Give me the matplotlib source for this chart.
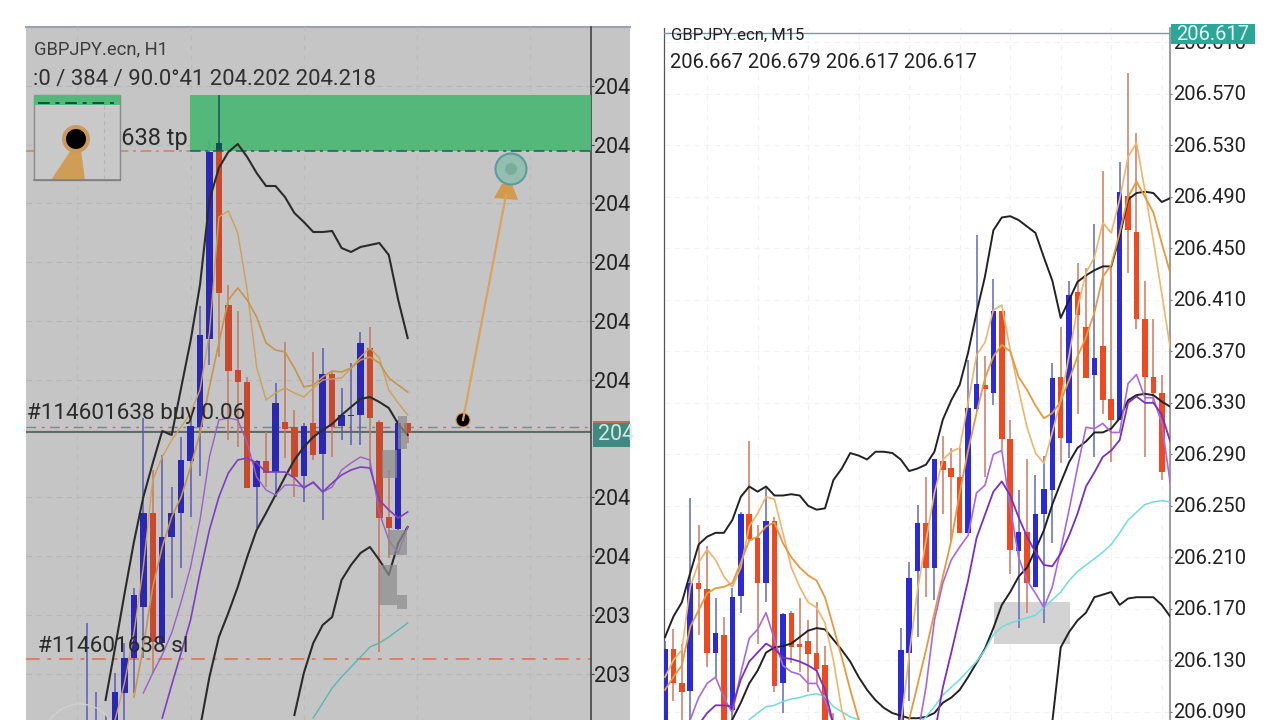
import numpy as np
import matplotlib
matplotlib.use('Agg')
import matplotlib.pyplot as plt
from matplotlib.patches import Rectangle, Circle, Polygon
from matplotlib.transforms import ScaledTranslation

plt.rcParams['font.family'] = ['Roboto', 'DejaVu Sans']

nan = np.nan

# ---- H1 panel (left) ----
h1_open = [203.851, 203.846, 203.846, 203.861, 203.893, 203.928, 203.979, 204.073, 203.943, 204.049, 204.073, 204.125,
           204.159, 204.247, 204.443, 204.281, 204.216, 204.204, 204.099, 204.125, 204.114, 204.164, 204.159, 204.110,
           204.163, 204.132, 204.212, 204.160, 204.170, 204.171, 204.238, 204.164, 204.069, 204.057, 204.163]
h1_high = [203.963, 203.894, 203.871, 203.913, 203.943, 203.998, 204.168, 204.116, 204.131, 204.099, 204.149, 204.168,
           204.280, 204.446, 204.491, 204.301, 204.275, 204.209, 204.126, 204.154, 204.203, 204.244, 204.176, 204.163,
           204.234, 204.238, 204.214, 204.198, 204.223, 204.254, 204.259, 204.166, 204.116, 204.166, 204.163]
h1_low = [203.846, 203.840, 203.840, 203.851, 203.861, 203.893, 203.928, 203.913, 203.939, 203.988, 204.018, 204.069,
          204.110, 204.221, 204.229, 204.146, 204.139, 204.098, 204.058, 204.099, 204.089, 204.128, 204.089, 204.084,
          204.126, 204.066, 204.129, 204.146, 204.141, 204.141, 204.119, 203.934, 204.028, 204.056, 204.143]
h1_close = [203.861, 203.856, 203.860, 203.894, 203.928, 203.991, 204.073, 203.944, 204.049, 204.073, 204.126, 204.160,
            204.251, 204.434, 204.293, 204.215, 204.204, 204.098, 204.125, 204.113, 204.183, 204.157, 204.109, 204.160,
            204.131, 204.212, 204.159, 204.171, 204.171, 204.243, 204.168, 204.068, 204.058, 204.163, 204.153]

h1_upper = [nan, nan] + [203.886, 203.938, 203.992, 204.044, 204.089, 204.123, 204.155, 204.151, 204.198, 204.245, 204.301,
                         204.386, 204.418, 204.434, 204.442, 204.429, 204.413, 204.400, 204.400, 204.389, 204.373, 204.364,
                         204.354, 204.354, 204.355, 204.338, 204.334, 204.339, 204.341, 204.343, 204.331, 204.286, 204.248]
h1_mid = [nan] * 12 + [203.858, 203.909, 203.949, 203.973, 203.999, 204.029, 204.056, 204.073, 204.091, 204.109, 204.126,
                       204.139, 204.149, 204.156, 204.162, 204.171, 204.179, 204.187, 204.189, 204.184, 204.178, 204.162, 204.151]
h1_lower = [nan] * 22 + [203.871, 203.913, 203.943, 203.961, 203.969, 204.006, 204.021, 204.033, 204.039, 204.026, 204.011,
                         204.043, 204.059]
h1_cyan = [nan] * 24 + [203.868, 203.883, 203.898, 203.909, 203.919, 203.929, 203.939, 203.943, 203.949, 203.956, 203.963]
h1_orange_a = [nan] * 3 + [203.866, 203.903, 203.953, 204.019, 204.106, 204.129, 204.146, 204.159, 204.173, 204.196, 204.253,
                           204.369, 204.375, 204.353, 204.296, 204.219, 204.186, 204.193, 204.198, 204.193, 204.189, 204.198,
                           204.206, 204.207, 204.208, 204.218, 204.229, 204.238, 204.228, 204.196, 204.183, 204.171]
h1_orange_b = [nan] * 5 + [203.889, 203.939, 203.999, 204.039, 204.069, 204.089, 204.119, 204.153, 204.199, 204.243, 204.286,
                           204.298, 204.286, 204.269, 204.243, 204.236, 204.234, 204.218, 204.199, 204.201, 204.209, 204.215,
                           204.214, 204.218, 204.226, 204.229, 204.223, 204.208, 204.201, 204.194]
h1_purple_a = [nan] * 6 + [203.893, 203.913, 203.931, 203.953, 203.984, 204.019, 204.066, 204.129, 204.166, 204.168, 204.166,
                           204.143, 204.109, 204.096, 204.091, 204.101, 204.101, 204.099, 204.103, 204.094, 204.099, 204.116,
                           204.123, 204.129, 204.126, 204.073, 204.046, 204.033, 204.059]
h1_purple_b = [nan] * 8 + [203.868, 203.901, 203.933, 203.966, 204.013, 204.056, 204.089, 204.113, 204.126, 204.128, 204.123,
                           204.114, 204.114, 204.114, 204.108, 204.098, 204.104, 204.094, 204.103, 204.111, 204.116, 204.119,
                           204.118, 204.086, 204.076, 204.068, 204.074]

# price ticks are cut off at the window edge in the video, only the first digits show
h1_ticks = [204.500, 204.441, 204.383, 204.324, 204.265, 204.206, 204.089, 204.030, 203.971, 203.912]
h1_tick_labels = ['204', '204', '204', '204', '204', '204', '204', '204', '203', '203']
h1_tp = 204.435
h1_tp_top = 204.491
h1_entry = 204.159
h1_bid = 204.154
h1_sl = 203.927

# ---- M15 panel (right) ----
m15_open = [206.076, 206.139, 206.112, 206.106, 206.190, 206.185, 206.136, 206.150, 206.091, 206.180, 206.244, 206.225,
            206.190, 206.238, 206.112, 206.167, 206.143, 206.145, 206.136, 206.126, 206.080, nan, nan, nan, nan, nan, nan,
            nan, 206.076, 206.136, 206.199, 206.237, 206.202, 206.285, 206.279, 206.272, 206.229, 206.325, 206.344, 206.338,
            206.401, 206.302, 206.215, 206.230, 206.187, 206.244, 206.262, 206.350, 206.299, 206.416, 206.389, 206.352,
            206.374, 206.333, 206.317, 206.491, 206.463, 206.395, 206.350, 206.338]
m15_high = [206.145, 206.154, 206.143, 206.256, 206.235, 206.219, 206.178, 206.164, 206.186, 206.245, 206.300, 206.235,
            206.265, 206.241, 206.167, 206.168, 206.178, 206.161, 206.175, 206.141, 206.089, nan, nan, nan, nan, nan, nan,
            nan, 206.155, 206.206, 206.251, 206.272, 206.286, 206.304, 206.295, 206.295, 206.363, 206.460, 206.366, 206.426,
            206.401, 206.317, 206.262, 206.286, 206.274, 206.289, 206.361, 206.389, 206.425, 206.439, 206.435, 206.469,
            206.510, 206.436, 206.517, 206.586, 206.540, 206.425, 206.395, 206.352]
m15_low = [206.070, 206.098, 206.076, 206.076, 206.150, 206.125, 206.117, 206.070, 206.076, 206.167, 206.223, 206.143,
           206.175, 206.105, 206.089, 206.128, 206.121, 206.105, 206.112, 206.070, 206.060, nan, nan, nan, nan, nan, nan,
           nan, 206.070, 206.098, 206.148, 206.179, 206.177, 206.244, 206.223, 206.229, 206.229, 206.324, 206.272, 206.328,
           206.293, 206.197, 206.155, 206.167, 206.187, 206.159, 206.221, 206.283, 206.287, 206.321, 206.349, 206.288,
           206.321, 206.284, 206.317, 206.431, 206.387, 206.288, 206.330, 206.270]
m15_close = [206.139, 206.112, 206.105, 206.190, 206.185, 206.136, 206.151, 206.076, 206.179, 206.244, 206.224, 206.190,
             206.238, 206.110, 206.166, 206.140, 206.140, 206.135, 206.123, 206.076, 206.065, nan, nan, nan, nan, nan, nan,
             nan, 206.138, 206.194, 206.237, 206.202, 206.286, 206.278, 206.272, 206.229, 206.326, 206.345, 206.341, 206.401,
             206.302, 206.216, 206.230, 206.190, 206.244, 206.263, 206.349, 206.303, 206.414, 206.398, 206.349, 206.365,
             206.332, 206.317, 206.494, 206.464, 206.395, 206.350, 206.338, 206.276]

m15_upper = [206.148, 206.164, 206.175, 206.198, 206.220, 206.226, 206.229, 206.229, 206.239, 206.257, 206.265, 206.261,
             206.265, 206.258, 206.258, 206.259, 206.258, 206.250, 206.247, 206.248, 206.270, 206.279, 206.291, 206.289,
             206.286, 206.292, 206.292, 206.291, 206.286, 206.277, 206.279, 206.282, 206.292, 206.317, 206.332, 206.344,
             206.369, 206.400, 206.428, 206.464, 206.474, 206.475, 206.472, 206.467, 206.462, 206.443, 206.425, 206.396,
             206.410, 206.424, 206.429, 206.433, 206.436, 206.436, 206.459, 206.488, 206.493, 206.494, 206.493, 206.486, 206.489]
m15_mid = [nan] * 8 + [206.084, 206.097, 206.112, 206.122, 206.136, 206.140, 206.141, 206.143, 206.148, 206.153, 206.155,
                       206.154, 206.146, 206.138, 206.129, 206.117, 206.107, 206.099, 206.093, 206.089, 206.087, 206.085,
                       206.085, 206.086, 206.089, 206.097, 206.101, 206.107, 206.117, 206.128, 206.139, 206.155, 206.173,
                       206.183, 206.195, 206.202, 206.216, 206.231, 206.251, 206.268, 206.284, 206.295, 206.300, 206.307,
                       206.307, 206.310, 206.318, 206.332, 206.336, 206.337, 206.336, 206.331, 206.327]
m15_lower = [nan] * 46 + [206.082, 206.140, 206.152, 206.161, 206.167, 206.179, 206.181, 206.183, 206.173, 206.178, 206.179,
                          206.179, 206.179, 206.173, 206.164]
m15_cyan = [nan] * 10 + [206.084, 206.089, 206.094, 206.095, 206.098, 206.100, 206.101, 206.103, 206.104, 206.102, 206.094,
                         206.090, 206.086, 206.084] + [nan] * 6 + \
           [206.080, 206.086, 206.094, 206.103, 206.109, 206.115, 206.122, 206.129, 206.138, 206.150, 206.156, 206.159,
            206.161, 206.163, 206.165, 206.171, 206.177, 206.183, 206.192, 206.199, 206.204, 206.209, 206.214, 206.220,
            206.229, 206.239, 206.245, 206.251, 206.253, 206.254, 206.253]
m15_orange_a = [206.117, 206.130, 206.138, 206.187, 206.206, 206.216, 206.208, 206.195, 206.187, 206.202, 206.234, 206.244,
                206.257, 206.255, 206.229, 206.202, 206.187, 206.175, 206.171, 206.159, 206.130, 206.091, 206.072] + [nan] * 5 + \
               [206.080, 206.134, 206.185, 206.223, 206.260, 206.286, 206.292, 206.295, 206.330, 206.367, 206.377, 206.402,
                206.406, 206.371, 206.340, 206.311, 206.291, 206.283, 206.307, 206.332, 206.367, 206.404, 206.431, 206.443,
                206.470, 206.462, 206.488, 206.521, 206.532, 206.495, 206.456, 206.415, 206.373]
m15_orange_b = [206.107, 206.117, 206.126, 206.156, 206.169, 206.182, 206.186, 206.187, 206.190, 206.206, 206.223, 206.226,
                206.234, 206.237, 206.221, 206.210, 206.202, 206.196, 206.192, 206.179, 206.156, 206.132, 206.107, 206.084,
                206.072] + [nan] * 4 + \
               [206.084, 206.111, 206.138, 206.167, 206.195, 206.223, 206.260, 206.293, 206.322, 206.349, 206.366, 206.375,
                206.370, 206.350, 206.340, 206.328, 206.318, 206.322, 206.331, 206.348, 206.366, 206.381, 206.400, 206.428,
                206.437, 206.462, 206.490, 206.502, 206.490, 206.478, 206.454, 206.431]
m15_purple_a = [nan] * 3 + [206.084, 206.101, 206.112, 206.117, 206.101, 206.089, 206.120, 206.147, 206.154, 206.167, 206.146,
                            206.126, 206.121, 206.119, 206.112, 206.112, 206.099, 206.080] + [nan] * 9 + \
               [206.072, 206.109, 206.161, 206.190, 206.208, 206.218, 206.227, 206.260, 206.266, 206.290, 206.293, 206.249,
                206.210, 206.192, 206.182, 206.171, 206.187, 206.216, 206.247, 206.280, 206.311, 206.310, 206.314, 206.307,
                206.307, 206.345, 206.352, 206.334, 206.334, 206.314, 206.268]
m15_purple_b = [nan] * 4 + [206.080, 206.089, 206.095, 206.095, 206.094, 206.115, 206.129, 206.136, 206.143, 206.139, 206.132,
                            206.131, 206.129, 206.126, 206.122, 206.107, 206.080] + [nan] * 11 + \
               [206.072, 206.109, 206.136, 206.164, 206.192, 206.225, 206.243, 206.261, 206.269, 206.258, 206.241, 206.226,
                206.214, 206.204, 206.203, 206.213, 206.227, 206.244, 206.265, 206.276, 206.288, 206.293, 206.301, 206.330,
                206.335, 206.330, 206.330, 206.321, 206.300]

m15_ticks = [206.610, 206.570, 206.530, 206.490, 206.450, 206.410, 206.370, 206.330, 206.290, 206.250, 206.210, 206.170,
             206.130, 206.090]
m15_bid = 206.617
m15_box_low = 206.143
m15_box_high = 206.175

W, H = 1280, 720
BLUE_L, RED_L = '#2b27b5', '#c9492c'
BLUE_R, RED_R = '#2a2ad8', '#f1491f'


def panel(x0, y0, x1, y1, **kw):
    # axes from pixel box, y0 top
    return fig.add_axes([x0 / W, 1 - y1 / H, (x1 - x0) / W, (y1 - y0) / H], **kw)


def candles(ax, o, h, l, c, up, down, wick_up, wick_down, width):
    xs = np.arange(len(o))
    o, h, l, c = map(np.array, (o, h, l, c))
    colors = [up if cc >= oo else down for oo, cc in zip(o, c)]
    wicks = [wick_up if cc >= oo else wick_down for oo, cc in zip(o, c)]
    ax.vlines(xs, l, h, colors=wicks, linewidth=1.1, zorder=3)
    ax.bar(xs, np.abs(c - o), bottom=np.minimum(o, c), width=width, color=colors, linewidth=0, zorder=4)


fig = plt.figure(figsize=(12.8, 7.2), dpi=100, facecolor='white')

# left window background reaches past the price axis
bg = panel(26, 27, 630, 720)
bg.set_facecolor('#c5c5c5')
bg.set_xticks([])
bg.set_yticks([])
for s in bg.spines.values():
    s.set_visible(False)
bg.spines['top'].set_visible(True)
bg.spines['top'].set_color('#9aa3b0')
bg.spines['top'].set_linewidth(1.5)

########## H1 ##########
ax1 = panel(26, 27, 591, 720)
ax1.patch.set_alpha(0)
ax1.set_xlim(-6.43, 53.42)
ax1.set_ylim(203.866, 204.559)
ax1.yaxis.tick_right()
ax1.set_yticks(h1_ticks)
ax1.set_yticklabels(h1_tick_labels, fontsize=15.5, color='#222222')
ax1.tick_params(axis='y', length=2, width=0.8, color='#444444', pad=0.5)
ax1.set_xticks([-1, 11, 23, 35, 47])
ax1.tick_params(axis='x', length=0, labelbottom=False)
ax1.grid(True, axis='y', linestyle=(0, (5, 4)), color='#b7b7b7', linewidth=0.8)
ax1.grid(True, axis='x', linestyle=(0, (5, 4)), color='#bdbdbd', linewidth=0.8)
ax1.set_axisbelow(True)
for s in ['top', 'left', 'bottom']:
    ax1.spines[s].set_visible(False)
ax1.spines['right'].set_color('#444444')
ax1.spines['right'].set_linewidth(1.2)

candles(ax1, h1_open, h1_high, h1_low, h1_close, BLUE_L, RED_L, '#5a5ab8', '#c8775e', 0.68)

ax1.axhspan(h1_tp, h1_tp_top, xmin=(190 - 26) / 565, xmax=1, color='#4fb877', alpha=0.95, linewidth=0, zorder=4.5)
ax1.vlines(14, h1_tp, h1_tp_top, color='#0f5d55', linewidth=1.1, zorder=4.6)
ax1.bar(14, h1_tp_top - h1_tp - 0.048, bottom=h1_tp, width=0.68, color='#0f4f55', zorder=4.6)

ax1.plot(h1_upper, color='#2b2b2b', lw=1.5, zorder=5)
ax1.plot(h1_mid, color='#2b2b2b', lw=1.5, zorder=5)
ax1.plot(h1_lower, color='#2b2b2b', lw=1.5, zorder=5)
ax1.plot(h1_cyan, color='#57b8ad', lw=1.0, zorder=5)
ax1.plot(h1_orange_a, color='#cf9f58', lw=1.0, zorder=5)
ax1.plot(h1_orange_b, color='#c8954a', lw=1.2, zorder=5)
ax1.plot(h1_purple_a, color='#9a5fc8', lw=1.0, zorder=5)
ax1.plot(h1_purple_b, color='#7d3fc0', lw=1.2, zorder=5)

ax1.axhline(h1_tp, xmin=0, xmax=(190 - 26) / 565, color='#cf7f60', lw=1.1, ls=(0, (7, 3, 2, 3)), zorder=2)
ax1.axhline(h1_tp, xmin=(190 - 26) / 565, xmax=1, color='#17624f', lw=1.1, ls=(0, (7, 3, 2, 3)), zorder=4.7)
ax1.axhline(h1_entry, color='#4d9c90', lw=1.0, ls=(0, (7, 4, 2, 4)), zorder=2)
ax1.axhline(h1_bid + 0.0012, color='#c9776a', lw=1.0, zorder=2)
ax1.axhline(h1_bid, color='#4f6a62', lw=1.3, zorder=2)
ax1.axhline(h1_sl, color='#dc7f5f', lw=1.4, ls=(0, (7, 4, 2, 4)), zorder=2)

fig.text(27 / W, 1 - 414 / H, '#114601638 buy 0.06', fontsize=16.2, color='#2a2a2a', va='center', zorder=9)
fig.text(38 / W, 1 - 647 / H, '#114601638 sl', fontsize=16.2, color='#2a2a2a', va='center', zorder=9)
fig.text(188 / W, 1 - 139 / H, '1638 tp', fontsize=17, color='#2a2a2a', va='center', ha='right', zorder=1.5)

fig.text(34 / W, 1 - 49 / H, 'GBPJPY.ecn, H1', fontsize=13.2, color='#3c3c3c', va='center', zorder=9)
fig.text(33 / W, 1 - 80 / H, ':0 / 384 / 90.0°41 204.202 204.218', fontsize=15.9, color='#2f2f2f', va='center', zorder=9)

########## M15 ##########
ax2 = panel(664, 28, 1170, 720)
ax2.set_xlim(-0.12, 59.98)
ax2.set_ylim(206.0836, 206.6212)
ax2.yaxis.tick_right()
ax2.set_yticks(m15_ticks)
ax2.set_yticklabels(['%.3f' % t for t in m15_ticks], fontsize=14.5, color='#222222')
ax2.tick_params(axis='y', length=1.5, width=0.8, color='#777777', pad=0.5)
# labels sit a little above the tick in the original
for lab in ax2.get_yticklabels():
    lab.set_transform(lab.get_transform() + ScaledTranslation(0, 0.8 / 72, fig.dpi_scale_trans))
ax2.set_xticks(np.arange(5, 60, 6))
ax2.tick_params(axis='x', length=0, labelbottom=False)
ax2.grid(True, linestyle=(0, (5, 4)), color='#f2f2f2', linewidth=0.8)
ax2.set_axisbelow(True)
for s in ['top', 'bottom']:
    ax2.spines[s].set_visible(False)
ax2.spines['left'].set_color('#555555')
ax2.spines['left'].set_linewidth(0.9)
ax2.spines['right'].set_color('#8a8a8a')
ax2.spines['right'].set_linewidth(1.2)

ax2.add_patch(Rectangle((39.05, m15_box_low), 9.0, m15_box_high - m15_box_low, facecolor='#d3d3d3', edgecolor='none', zorder=1))

candles(ax2, m15_open, m15_high, m15_low, m15_close, BLUE_R, RED_R, '#5e6bb8', '#d2775f', 0.66)

ax2.plot(m15_upper, color='#222222', lw=1.4, zorder=5)
ax2.plot(m15_mid, color='#222222', lw=1.4, zorder=5)
ax2.plot(m15_lower, color='#222222', lw=1.4, zorder=5)
ax2.plot(m15_cyan, color='#6fdde0', lw=1.1, zorder=5)
ax2.plot(m15_orange_a, color='#efb56a', lw=1.2, zorder=5)
ax2.plot(m15_orange_b, color='#e59a3c', lw=1.3, zorder=5)
ax2.plot(m15_purple_a, color='#a968e0', lw=1.2, zorder=5)
ax2.plot(m15_purple_b, color='#7a2fc4', lw=1.3, zorder=5)

ax2.axhline(m15_bid, color='#5fa89a', lw=1.0, zorder=6)

fig.text(671 / W, 1 - 35 / H, 'GBPJPY.ecn, M15', fontsize=12, color='#222222', va='center', zorder=9)
fig.text(670 / W, 1 - 63 / H, '206.667 206.679 206.617 206.617', fontsize=14.5, color='#222222', va='center', zorder=9)

########## overlay: price boxes, chart objects, thumbnail (screen pixels) ##########
top = fig.add_axes([0, 0, 1, 1], zorder=10)
top.set_xlim(0, W)
top.set_ylim(H, 0)
top.axis('off')
top.patch.set_alpha(0)

# right price box
top.add_patch(Rectangle((1171, 24), 84, 20, facecolor='#2aa797', edgecolor='none'))
top.text(1213, 34, '206.617', color='#e8f5f2', fontsize=14.5, ha='center', va='center')
# left price box, text cut at the window edge
top.add_patch(Rectangle((593, 421), 37, 2, facecolor='#c66a5c', edgecolor='none'))
box = Rectangle((593, 423), 37, 24, facecolor='#3f8a80', edgecolor='none')
top.add_patch(box)
lbl = top.text(598, 435, '204', color='#d6e6e2', fontsize=15.5, va='center')
lbl.set_clip_path(box)

# grey blotches
for x, y, w, h in [(382, 450, 15, 28), (398, 416, 9, 33), (388, 530, 19, 25), (379, 565, 18, 40), (397, 595, 10, 14)]:
    top.add_patch(Rectangle((x, y), w, h, facecolor='#8d8d8d', edgecolor='none', alpha=0.72))

# ghost circle bottom left
top.add_patch(Circle((80, 740), 36, facecolor='none', edgecolor='#cfcfcf', lw=1))

# arrow object
top.plot([463, 506], [420, 195], color='#d9a35f', lw=1.6)
top.add_patch(Polygon([[494, 198], [518, 200], [512, 184], [502, 184]], closed=True, facecolor='#d49a4c', edgecolor='none'))
top.add_patch(Circle((511, 169), 15.5, facecolor='#93c0ae', edgecolor='#5f9aa0', lw=1.5))
top.add_patch(Circle((511, 169), 6, facecolor='#79ad9a', edgecolor='none'))
top.add_patch(Circle((463, 420), 7, facecolor='black', edgecolor='#d49d55', lw=0.8))

# thumbnail
top.add_patch(Rectangle((34, 95), 86, 85, facecolor='#c9c9c9', edgecolor='#8b8b8b', lw=1))
top.add_patch(Rectangle((34, 95), 86, 10, facecolor='#52b97a', edgecolor='none'))
top.plot([38, 118], [103, 103], color='#134f3f', lw=1.4, ls=(0, (6, 3, 2, 3)))
top.plot([104, 104], [105, 180], color='#b5b5b5', lw=0.8, ls=(0, (4, 3)))
top.plot([34, 120], [180, 180], color='#7f7f7f', lw=1.2)
top.add_patch(Polygon([[51, 180], [85, 180], [81, 150], [71, 150]], closed=True, facecolor='#d09d58', edgecolor='none'))
top.add_patch(Circle((76, 139), 14, facecolor='#c99a5c', edgecolor='none'))
top.add_patch(Circle((76, 139), 10, facecolor='black', edgecolor='none'))

fig.savefig('out.png', dpi=100)
